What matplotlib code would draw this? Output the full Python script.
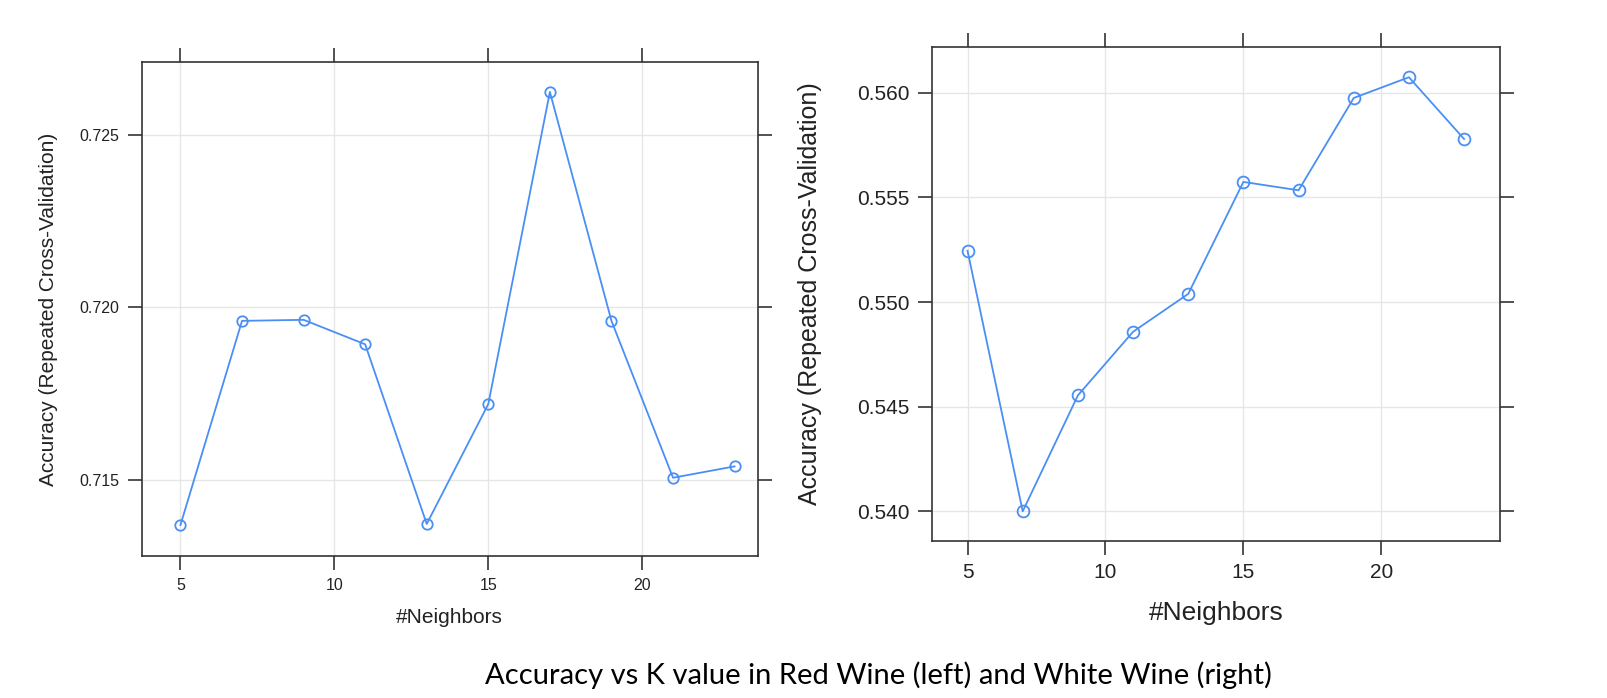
import numpy as np
import matplotlib
matplotlib.use("Agg")
import matplotlib.pyplot as plt

plt.rcParams['font.family'] = ['Liberation Sans', 'DejaVu Sans']

# data
k_values = [5, 7, 9, 11, 13, 15, 17, 19, 21, 23]
red_acc = [0.71369, 0.71961, 0.71964, 0.71893, 0.71372,
           0.71720, 0.72625, 0.71961, 0.71506, 0.71539]
white_acc = [0.55245, 0.54000, 0.54554, 0.54858, 0.55039,
             0.55574, 0.55534, 0.55975, 0.56074, 0.55779]

x_ticks = [5, 10, 15, 20]
red_yticks = [0.715, 0.720, 0.725]
white_yticks = [0.540, 0.545, 0.550, 0.555, 0.560]

line_col = '#4a8ff5'
box_col = '#333333'
grid_col = '#e6e6e6'
text_col = '#222222'

fig = plt.figure(figsize=(16.08, 6.98), dpi=100)

def lattice_panel(rect, y, yticks, xlim, ylim, tick_fs, xlab_fs, ylab_fs,
                  msize, xlab_pos, ylab_pos):
    ax = fig.add_axes(rect)
    ax.plot(k_values, y, color=line_col, lw=1.3, marker='o', ms=msize,
            mfc='none', mec=line_col, mew=1.3, zorder=3)
    ax.set_xlim(*xlim)
    ax.set_ylim(*ylim)
    ax.set_xticks(x_ticks)
    ax.set_yticks(yticks)
    ax.set_yticklabels(['%.3f' % v for v in yticks])
    ax.grid(True, color=grid_col, lw=1.0, zorder=0)
    for s in ax.spines.values():
        s.set_color(box_col)
        s.set_linewidth(1.2)
    ax.tick_params(direction='out', length=10, width=1.2, color=box_col,
                   top=True, right=True, labelsize=tick_fs, labelcolor=text_col,
                   pad=6)
    ax.set_xlabel('#Neighbors', fontsize=xlab_fs, color=text_col, va='center')
    ax.set_ylabel('Accuracy (Repeated Cross-Validation)', fontsize=ylab_fs,
                  color=text_col, va='center')
    ax.xaxis.set_label_coords(0.5, xlab_pos)
    ax.yaxis.set_label_coords(ylab_pos, 0.5)
    return ax

# left: red wine
lattice_panel([0.0881, 0.2039, 0.3831, 0.7069], red_acc, red_yticks,
              (3.74, 23.75), (0.7128, 0.72711), 11.5, 15, 15, 7.5,
              -0.126, -0.152)

# right: white wine
lattice_panel([0.5794, 0.2254, 0.3534, 0.7077], white_acc, white_yticks,
              (3.7, 24.3), (0.5386, 0.5622), 15, 19, 18, 8.5,
              -0.146, -0.214)

fig.text(0.546, 0.033, 'Accuracy vs K value in Red Wine (left) and White Wine (right)',
         ha='center', va='center', fontsize=21, family=['Lato', 'DejaVu Sans'])

fig.savefig('out.png', dpi=100, facecolor='white')
